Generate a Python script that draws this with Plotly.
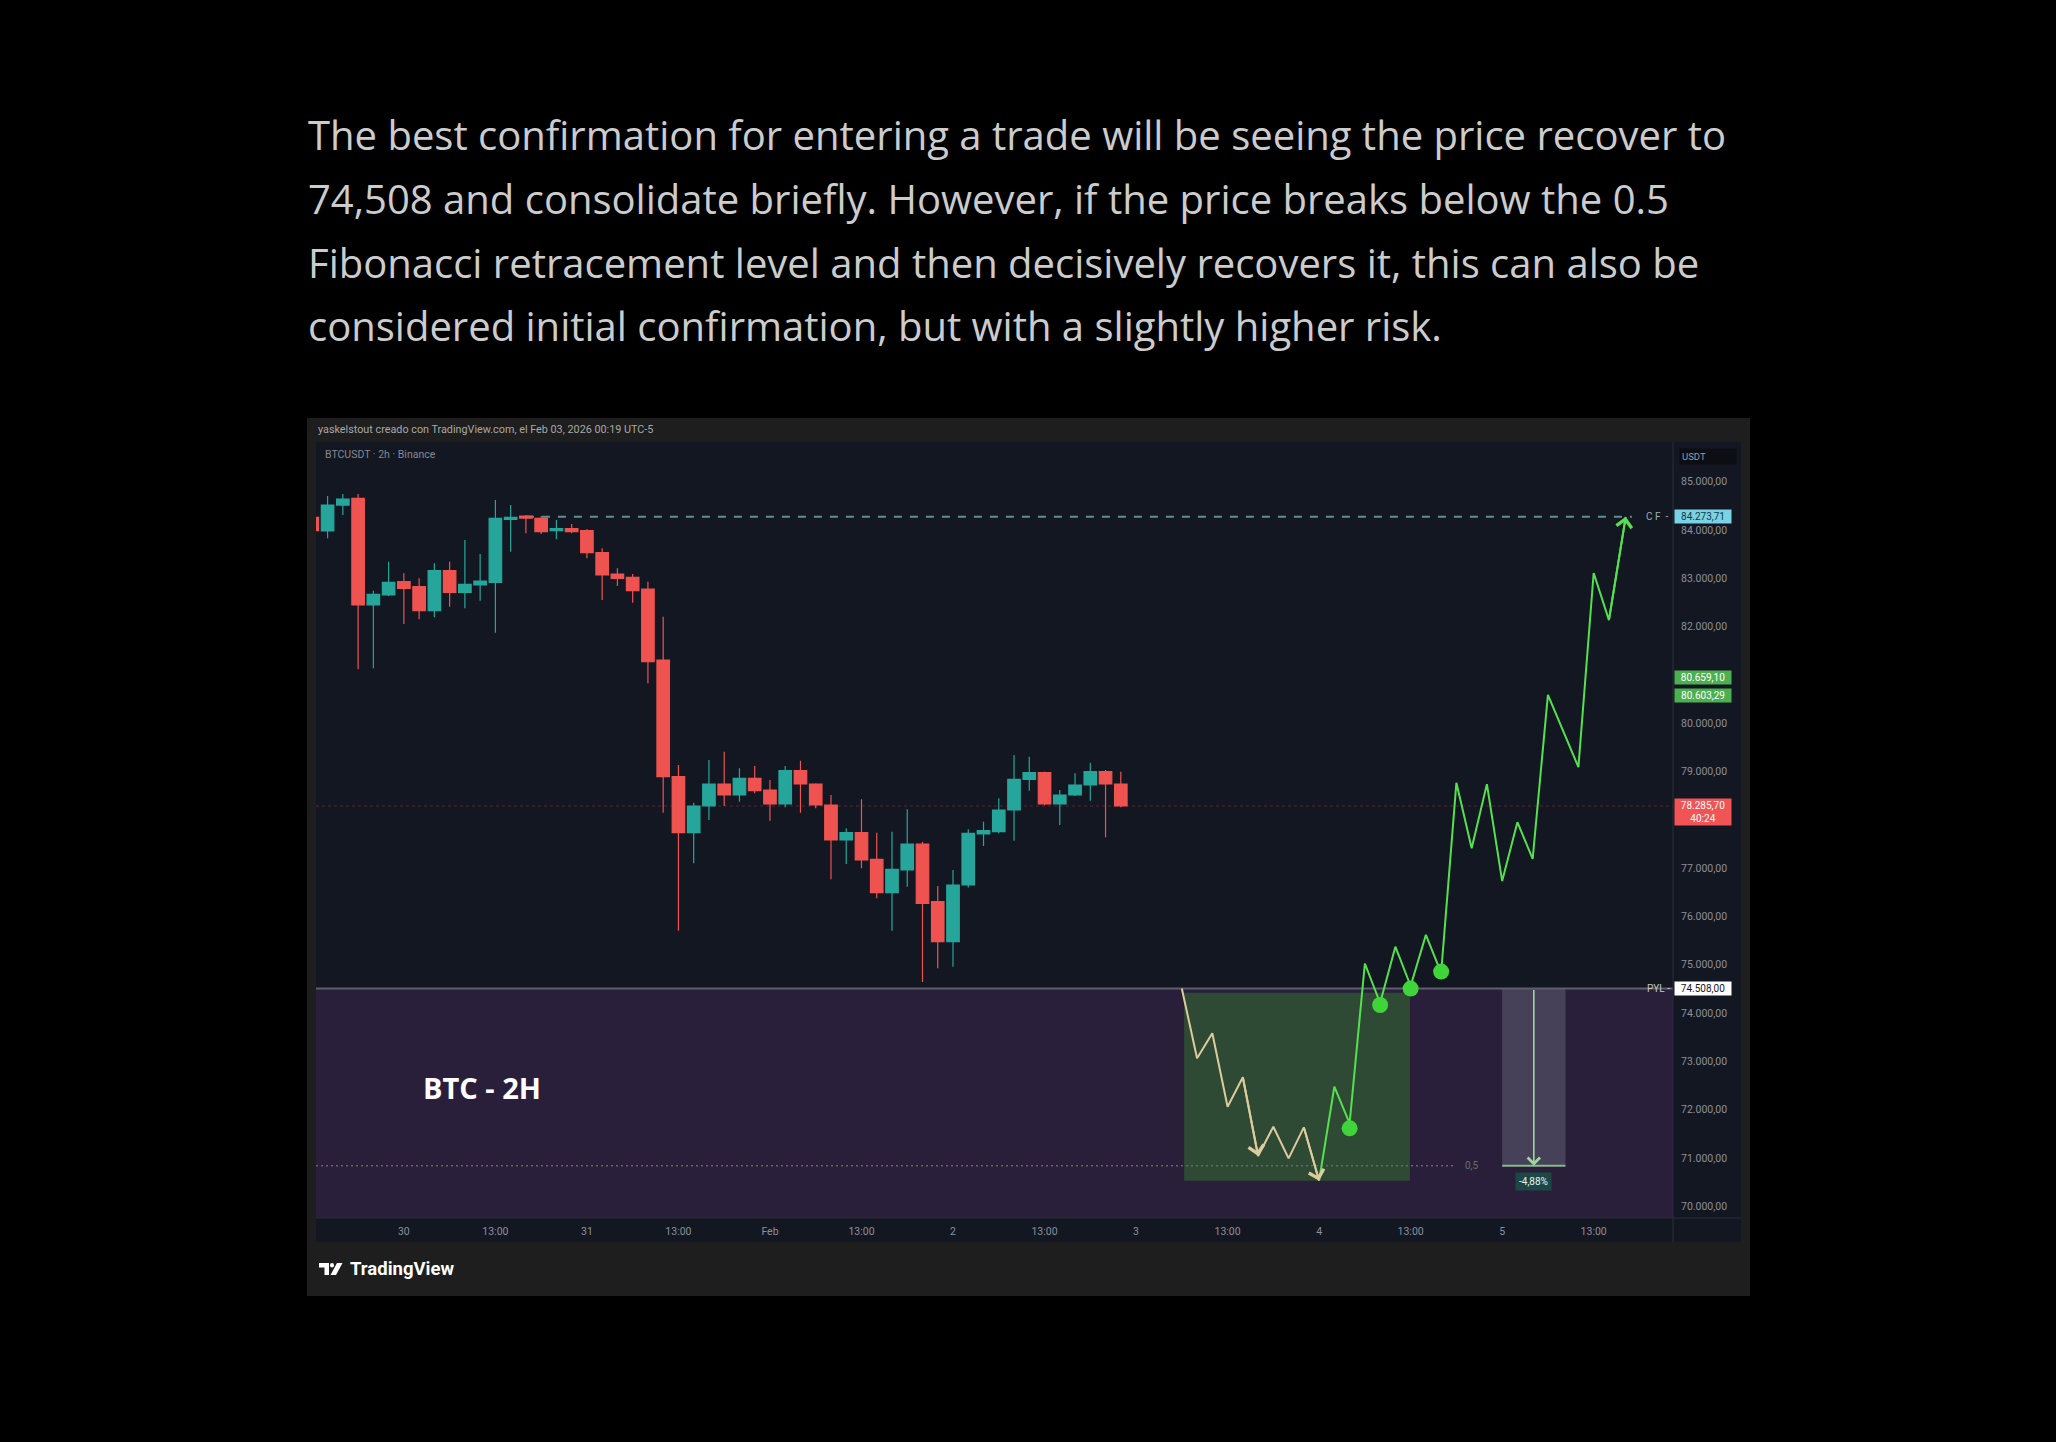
import plotly.graph_objects as go

W, H = 2056, 1442

# ---------------- data ----------------
# 2h candles, x = hours since Jan 30 01:00 (UTC-5)
bar_t = list(range(-12, 96, 2))
bar_open = [84262, 83979, 84517, 84655, 82447, 82654, 82930, 82827, 82330, 83158, 82709, 82861, 82916, 84221,
            84290, 84241, 83986, 84027, 83986, 83531, 83089, 83020, 82778, 81309, 78893, 77734, 78286, 78741,
            78514, 78858, 78617, 78327, 79017, 78741, 78307, 77582, 77734, 77182, 76492, 76961, 77499, 76305,
            75477, 76650, 77706, 77755, 78203, 78838, 78976, 78327, 78514, 78721, 78997, 78741]
bar_high = [84320, 84704, 84745, 84745, 82744, 83344, 83103, 83000, 83310, 83344, 83793, 83503, 84621, 84517,
            84310, 84290, 84207, 84124, 84014, 83620, 83206, 83089, 82930, 82206, 79135, 78355, 79238, 79411,
            79066, 79114, 78824, 79114, 79224, 78755, 78514, 77824, 78424, 77734, 77755, 78217, 77548, 76630,
            76961, 77803, 77962, 78445, 79342, 79307, 78997, 78617, 78962, 79183, 79031, 78997]
bar_low = [83950, 83827, 84310, 81115, 81136, 82634, 82054, 82150, 82192, 82413, 82378, 82537, 81874, 83551,
           83931, 83917, 83807, 83931, 83413, 82551, 82841, 82495, 80825, 78148, 75705, 77099, 77996, 78286,
           78376, 78548, 77982, 78258, 78148, 78238, 76768, 77085, 76996, 76374, 75705, 76616, 74640, 74925,
           74960, 76600, 77458, 77720, 77568, 78603, 78307, 77892, 78493, 78396, 77637, 78258]
bar_close = [83986, 84517, 84642, 82447, 82668, 82916, 82792, 82330, 83158, 82709, 82875, 82944, 84241, 84262,
             84248, 83965, 84027, 83965, 83531, 83068, 82999, 82744, 81274, 78893, 77734, 78286, 78741, 78514,
             78858, 78603, 78327, 79017, 78741, 78307, 77582, 77734, 77168, 76492, 76975, 77499, 76271, 75477,
             76650, 77720, 77775, 78203, 78838, 78976, 78327, 78514, 78721, 78997, 78741, 78286]

tick_hours = [0, 12, 24, 36, 48, 60, 72, 84, 96, 108, 120, 132, 144, 156]
tick_text = ["30", "13:00", "31", "13:00", "Feb", "13:00", "2", "13:00", "3", "13:00", "4", "13:00", "5", "13:00"]
# 78.000 sits under the last-price tag and is not visible
price_ticks = [70000, 71000, 72000, 73000, 74000, 75000, 76000, 77000, 79000, 80000, 81000, 82000, 83000,
               84000, 85000]

x_range = [-11.52, 166.4]
y_range = [69756, 85822]

cf_level = 84273.71
cf_span = [16, 161]
last_price = 78285.70
countdown = "40:24"
pyl_level = 74508.00
green_labels = [80659.10, 80603.29]
fib_half = 70840
fib_end = 137.8

# projected paths
path_a_t = [102, 104, 106, 108, 110, 112, 114, 116, 118, 120]
path_a_p = [74508, 73062, 73580, 72060, 72669, 71040, 71646, 70991, 71633, 70528]
path_b_t = [120, 122, 124, 126, 128, 130, 132, 134, 136, 138, 140, 142, 144, 146, 148, 150, 154, 156, 158, 160.2]
path_b_p = [70528, 72474, 71716, 75021, 74207, 75373, 74559, 75617, 74830, 78766, 77410, 78739, 76731, 77952,
            77192, 80586, 79091, 83110, 82133, 84273]
dot_t = [124, 128, 132, 136]
dot_p = [71613, 74166, 74505, 74857]

zone_t = [102.3, 131.9]
zone_p = [70528, 74420]
measure_t = [144.0, 152.3]
measure_p = [fib_half, pyl_level]
measure_pct = "-4,88%"

paragraph = [
    "The best confirmation for entering a trade will be seeing the price recover to",
    "74,508 and consolidate briefly. However, if the price breaks below the 0.5",
    "Fibonacci retracement level and then decisively recovers it, this can also be",
    "considered initial confirmation, but with a slightly higher risk.",
]

# ---------------- styles ----------------
UP = "#26a69a"
DN = "#ef5350"
TAN = "#dccb9c"
GRN = "#55e04f"
BG = "#131722"
CARD = "#1e1e1e"
PURPLE = "#2a1f3b"


def px(x):
    return x / W


def py(y):
    return 1 - y / H


def eu(v):
    s = f"{v:,.2f}"
    return s.replace(",", "X").replace(".", ",").replace("X", ".")


fig = go.Figure()

fig.add_trace(go.Candlestick(
    x=bar_t, open=bar_open, high=bar_high, low=bar_low, close=bar_close,
    increasing=dict(line=dict(color=UP, width=1.2), fillcolor=UP),
    decreasing=dict(line=dict(color=DN, width=1.2), fillcolor=DN),
    whiskerwidth=0, hoverinfo="skip", showlegend=False,
))

fig.add_trace(go.Scatter(x=path_a_t, y=path_a_p, mode="lines",
                         line=dict(color=TAN, width=2), hoverinfo="skip", showlegend=False))
fig.add_trace(go.Scatter(x=path_b_t, y=path_b_p, mode="lines",
                         line=dict(color=GRN, width=2), hoverinfo="skip", showlegend=False))
fig.add_trace(go.Scatter(x=dot_t, y=dot_p, mode="markers",
                         marker=dict(color="#3fd43a", size=16), hoverinfo="skip", showlegend=False))

shapes = []
# card and chart panels
shapes.append(dict(type="rect", xref="paper", yref="paper", x0=px(307), x1=px(1750), y0=py(1296), y1=py(418),
                   fillcolor=CARD, line=dict(width=0), layer="below"))
shapes.append(dict(type="rect", xref="paper", yref="paper", x0=px(316), x1=px(1741), y0=py(1242), y1=py(442),
                   fillcolor=BG, line=dict(width=0), layer="below"))
# zones (data coords)
shapes.append(dict(type="rect", xref="x", yref="y", x0=x_range[0], x1=x_range[1], y0=y_range[0], y1=pyl_level,
                   fillcolor=PURPLE, line=dict(width=0), layer="below"))
shapes.append(dict(type="rect", xref="x", yref="y", x0=zone_t[0], x1=zone_t[1], y0=zone_p[0], y1=zone_p[1],
                   fillcolor="#2f4a34", line=dict(width=0), layer="below"))
shapes.append(dict(type="rect", xref="x", yref="y", x0=measure_t[0], x1=measure_t[1], y0=measure_p[0],
                   y1=measure_p[1], fillcolor="#474059", line=dict(width=0), layer="below"))
shapes.append(dict(type="line", xref="x", yref="y", x0=measure_t[0], x1=measure_t[1], y0=measure_p[0],
                   y1=measure_p[0], line=dict(color="#86b98c", width=2), layer="below"))
shapes.append(dict(type="line", xref="x", yref="y", x0=x_range[0], x1=x_range[1], y0=pyl_level, y1=pyl_level,
                   line=dict(color="#5d5f6b", width=2), layer="below"))
shapes.append(dict(type="line", xref="x", yref="y", x0=x_range[0], x1=fib_end, y0=fib_half, y1=fib_half,
                   line=dict(color="#56705c", width=1.5, dash="2px,3px"), layer="below"))
shapes.append(dict(type="line", xref="x", yref="y", x0=cf_span[0], x1=cf_span[1], y0=cf_level, y1=cf_level,
                   line=dict(color="#5f8f92", width=2, dash="8px,8px"), layer="below"))
shapes.append(dict(type="line", xref="x", yref="y", x0=x_range[0], x1=x_range[1], y0=last_price, y1=last_price,
                   line=dict(color="#5a2530", width=1, dash="3px,3px"), layer="below"))
# separators
shapes.append(dict(type="line", xref="paper", yref="paper", x0=px(1673), x1=px(1673), y0=py(1242), y1=py(442),
                   line=dict(color="#2a2e39", width=1)))
shapes.append(dict(type="line", xref="paper", yref="paper", x0=px(316), x1=px(1741), y0=py(1218), y1=py(1218),
                   line=dict(color="#2a2e39", width=1)))
# TradingView logo glyph
lx, ly = 319, 1263
shapes.append(dict(type="path", xref="paper", yref="paper", fillcolor="#ffffff", line=dict(width=0),
                   path=f"M{px(lx)},{py(ly)} L{px(lx+10)},{py(ly)} L{px(lx+10)},{py(ly+12)} L{px(lx+5.5)},{py(ly+12)} "
                        f"L{px(lx+5.5)},{py(ly+4.5)} L{px(lx)},{py(ly+4.5)} Z"))
shapes.append(dict(type="circle", xref="paper", yref="paper", fillcolor="#ffffff", line=dict(width=0),
                   x0=px(lx+11), x1=px(lx+15), y0=py(ly+4.5), y1=py(ly)))
shapes.append(dict(type="path", xref="paper", yref="paper", fillcolor="#ffffff", line=dict(width=0),
                   path=f"M{px(lx+18)},{py(ly)} L{px(lx+23.5)},{py(ly)} L{px(lx+17)},{py(ly+12)} L{px(lx+11.5)},{py(ly+12)} Z"))

ann = []
# paragraph
for i, line in enumerate(paragraph):
    ann.append(dict(text=line, xref="paper", yref="paper", x=px(306), y=py(135 + i * 63.5), xanchor="left",
                    yanchor="middle", showarrow=False,
                    font=dict(family="Open Sans", size=40, color="#cccccc")))
# header texts
ann.append(dict(text="yaskelstout creado con TradingView.com, el Feb 03, 2026 00:19 UTC-5", xref="paper",
                yref="paper", x=px(316), y=py(430), xanchor="left", yanchor="middle", showarrow=False,
                font=dict(family="Roboto", size=10.8, color="#a8a8a8")))
ann.append(dict(text="BTCUSDT · 2h · Binance", xref="paper", yref="paper", x=px(323), y=py(454), xanchor="left",
                yanchor="middle", showarrow=False, font=dict(family="Roboto", size=10.5, color="#868993")))
ann.append(dict(text="USDT", xref="paper", yref="paper", x=px(1679), y=py(456), xanchor="left", yanchor="middle",
                showarrow=False, width=52, align="left", bgcolor="#0c0e13", borderpad=2,
                font=dict(family="Roboto", size=9.5, color="#9a9da6")))
ann.append(dict(text="<b>TradingView</b>", xref="paper", yref="paper", x=px(348), y=py(1269), xanchor="left",
                yanchor="middle", showarrow=False, font=dict(family="Roboto", size=18.5, color="#ffffff")))
ann.append(dict(text="<b>BTC - 2H</b>", xref="paper", yref="paper", x=px(482), y=py(1087), xanchor="center",
                yanchor="middle", showarrow=False, font=dict(family="Open Sans", size=29, color="#ffffff")))
# line tags
ann.append(dict(text="C F  -", xref="paper", yref="y", x=px(1670), y=cf_level, xanchor="right", yanchor="middle",
                showarrow=False, font=dict(family="Roboto", size=10, color="#9ab0b2")))
ann.append(dict(text="PYL -", xref="paper", yref="y", x=px(1672), y=pyl_level, xanchor="right", yanchor="middle",
                showarrow=False, font=dict(family="Roboto", size=10, color="#c8c8c8")))
ann.append(dict(text="0,5", xref="x", yref="y", x=fib_end + 2.2, y=fib_half, xanchor="center", yanchor="middle",
                showarrow=False, font=dict(family="Roboto", size=10, color="#5e7566")))
# price-axis tags
def tag(val, txt, bg, fg, yshift=0, yanchor="middle"):
    return dict(text=txt, xref="paper", yref="y", x=px(1674), y=val, xanchor="left", yanchor=yanchor,
                yshift=yshift, showarrow=False, width=54, align="center", bgcolor=bg, borderpad=1,
                font=dict(family="Roboto", size=10, color=fg))

ann.append(tag(cf_level, eu(cf_level), "#79d3e4", "#0f3a44"))
ann.append(tag(green_labels[0], eu(green_labels[0]), "#4caf50", "#ffffff", yshift=14))
ann.append(tag(green_labels[1], eu(green_labels[1]), "#4caf50", "#ffffff", yshift=-1))
ann.append(tag(last_price, eu(last_price) + "<br>" + countdown, "#f05454", "#ffffff", yshift=8, yanchor="top"))
ann.append(tag(pyl_level, eu(pyl_level), "#ffffff", "#131722"))
# measurement label
ann.append(dict(text=measure_pct, xref="x", yref="y", x=sum(measure_t) / 2, y=measure_p[0], xanchor="center",
                yanchor="top", yshift=-6, showarrow=False, bgcolor="#1d4744", borderpad=3,
                font=dict(family="Roboto", size=10, color="#e8f4f2")))
# arrow heads
def arrow(t0, p0, t1, p1, color, w=2):
    return dict(text="", x=t1, y=p1, ax=t0, ay=p0, xref="x", yref="y", axref="x", ayref="y",
                showarrow=True, arrowhead=4, arrowsize=1.5, arrowwidth=w, arrowcolor=color)

ann.append(arrow(path_a_t[4], path_a_p[4], path_a_t[5], path_a_p[5], TAN))
ann.append(arrow(path_a_t[-2], path_a_p[-2], path_a_t[-1], path_a_p[-1], TAN))
ann.append(arrow(path_b_t[-2], path_b_p[-2], path_b_t[-1], path_b_p[-1], GRN))
mid = sum(measure_t) / 2
ann.append(arrow(mid, measure_p[1], mid, measure_p[0], "#9bd89b", w=1.6))

fig.update_layout(
    width=W, height=H, autosize=False,
    margin=dict(l=0, r=0, t=0, b=0),
    paper_bgcolor="#000000", plot_bgcolor=BG,
    separators=",.",
    boxgap=0.18, boxgroupgap=0,
    showlegend=False,
    shapes=shapes, annotations=ann,
    xaxis=dict(domain=[px(316), px(1673)], range=x_range, tickvals=tick_hours, ticktext=tick_text,
               showgrid=False, zeroline=False, showline=False, ticks="", ticklabelstandoff=5,
               tickfont=dict(family="Roboto", size=10.5, color="#8d909a"), rangeslider=dict(visible=False),
               fixedrange=True),
    yaxis=dict(domain=[py(1218), py(442)], range=y_range, side="right", tickvals=price_ticks,
               tickformat=",.2f", showgrid=False, zeroline=False, showline=False, ticks="",
               ticklabelstandoff=7, tickfont=dict(family="Roboto", size=10.5, color="#8d909a"), fixedrange=True),
)

fig.write_html("out.html", config={"displayModeBar": False},
               post_script="document.body.style.margin='0';document.body.style.background='#000';")
